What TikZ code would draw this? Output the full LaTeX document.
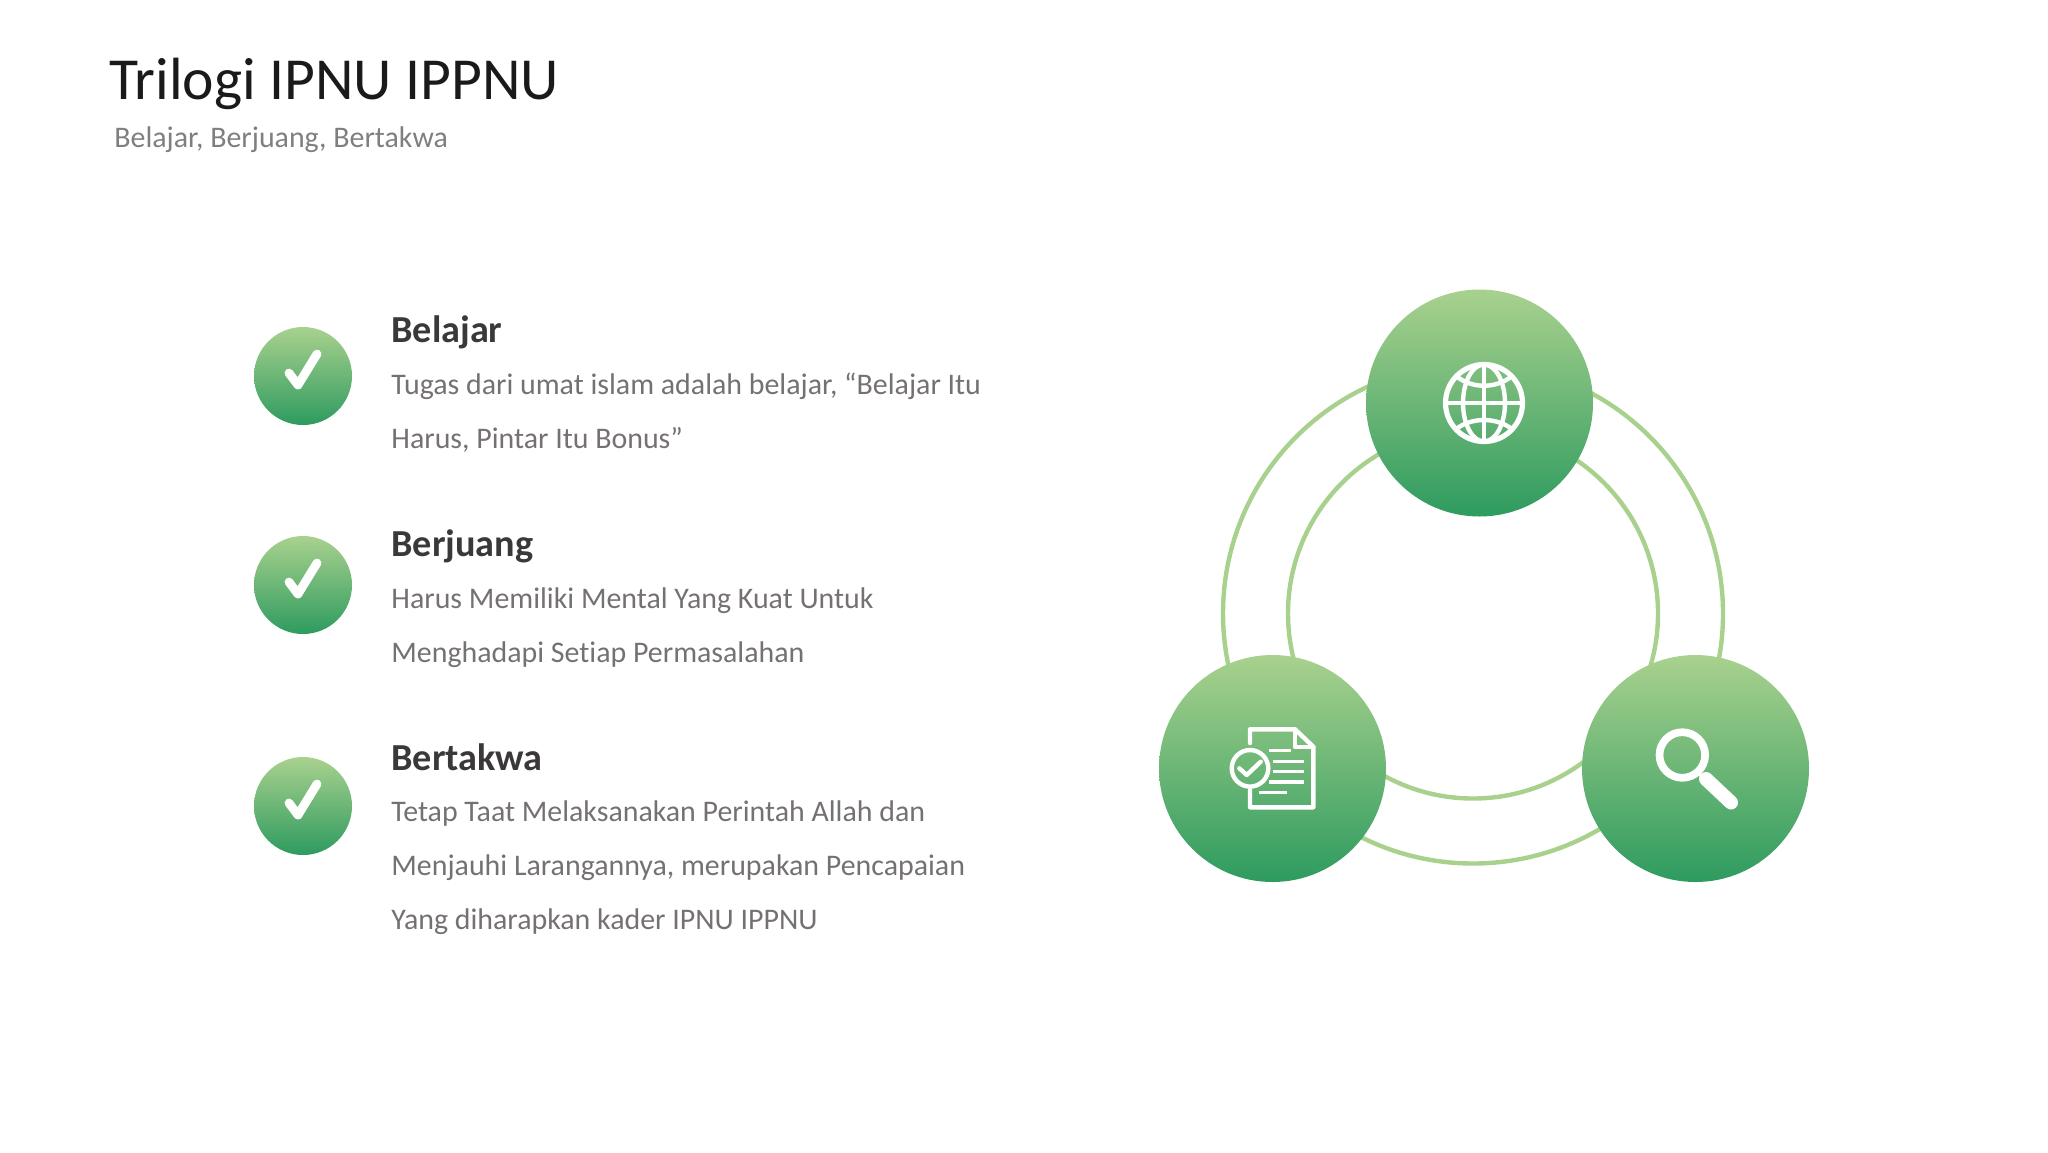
\documentclass[tikz,border=0pt]{standalone}
\usepackage{fontspec}
\setmainfont[Ligatures=NoCommon]{Carlito}
\usetikzlibrary{positioning, calc}

\definecolor{ringgreen}{HTML}{A9D18E}
\definecolor{topgreen}{HTML}{A9D18E}
\definecolor{botgreen}{HTML}{2E9B5F}
\definecolor{titleink}{HTML}{1A1A1A}
\definecolor{subink}{HTML}{7F7F7F}
\definecolor{headink}{HTML}{3B3838}
\definecolor{bodyink}{HTML}{767171}

\tikzset{
    txt/.style={anchor=base west, inner sep=0pt},
    headtxt/.style={txt, text=headink, font=\fontsize{19.1}{23}\selectfont\bfseries},
    bodytxt/.style={txt, text=bodyink, font=\fontsize{14.95}{18}\selectfont},
    hub/.style={circle, inner sep=0pt, minimum size=113.5pt, top color=topgreen, bottom color=botgreen},
    tick/.style={circle, inner sep=0pt, minimum size=49pt, top color=topgreen, bottom color=botgreen},
    ring/.style={draw=ringgreen, line width=2.2pt},
    icon/.style={draw=white, line width=2.2pt, line cap=round, line join=round}
}

\begin{document}
\begin{tikzpicture}[x=0.5pt, y=-0.5pt]
    \useasboundingbox (0,0) rectangle (2048,1152);

    % Title
    \node[txt, text=titleink, font=\fontsize{29.8}{36}\selectfont] (title) at (109,99.3) {Trilogi IPNU IPPNU};
    \node[txt, text=subink, font=\fontsize{14.95}{18}\selectfont] (subtitle) at (114,147.3) {Belajar, Berjuang, Bertakwa};

    % Check marks
    \foreach \i/\y in {0/376, 1/585, 2/806} {
        \node[tick] (tick\i) at (303,\y) {};
        \draw[icon, line width=4.4pt] ($(tick\i)+(-14,-3)$) -- ($(tick\i)+(-5,9)$) -- ($(tick\i)+(14,-22)$);
    }

    % Points
    \node[headtxt] (head0) at (391,342) {Belajar};
    \node[bodytxt] (body0a) at (391,394.3) {Tugas dari umat islam adalah belajar, “Belajar Itu};
    \node[bodytxt] (body0b) at (391,448.3) {Harus, Pintar Itu Bonus”};
    \node[headtxt] (head1) at (391,556) {Berjuang};
    \node[bodytxt] (body1a) at (391,608.3) {Harus Memiliki Mental Yang Kuat Untuk};
    \node[bodytxt] (body1b) at (391,662.3) {Menghadapi Setiap Permasalahan};
    \node[headtxt] (head2) at (391,770) {Bertakwa};
    \node[bodytxt] (body2a) at (391,821) {Tetap Taat Melaksanakan Perintah Allah dan};
    \node[bodytxt] (body2b) at (391,875) {Menjauhi Larangannya, merupakan Pencapaian};
    \node[bodytxt] (body2c) at (391,929) {Yang diharapkan kader IPNU IPPNU};

    % Rings
    \draw[ring] (1473,613.5) circle[radius=250];
    \draw[ring] (1473,613.5) circle[radius=185];

    % Hubs
    \node[hub] (hubtop) at (1479.5,403) {};
    \node[hub] (hubleft) at (1272.5,768.5) {};
    \node[hub] (hubright) at (1695.5,768.5) {};

    % Globe
    \begin{scope}[icon, line cap=butt]
        \draw[line width=2.6pt] (1484,403) circle[radius=38.5];
        \draw (1484,365) -- (1484,441);
        \draw (1446,403) -- (1522,403);
        \draw (1484,403) ellipse[x radius=21, y radius=38.5];
        \draw (1456,376) .. controls (1472,389) and (1496,389) .. (1512,376);
        \draw (1456,429) .. controls (1472,417) and (1496,417) .. (1512,429);
    \end{scope}

    % Document
    \begin{scope}[icon]
        \draw (1250,743) -- (1250,729.3) -- (1295,729.3) -- (1313.3,746.7) -- (1313.3,807.3) -- (1250,807.3) -- (1250,790);
        \draw (1295,729.3) -- (1295,746.7) -- (1313.3,746.7);
        \draw (1250,768.3) circle[radius=18.3];
        \draw (1239.3,768.3) -- (1246.7,775) -- (1260.7,761.7);
        \draw[line width=1.6pt, line cap=butt] (1269.3,750.7) -- (1290.7,750.7);
        \draw[line width=1.6pt, line cap=butt] (1272.7,761.3) -- (1304,761.3);
        \draw[line width=1.6pt, line cap=butt] (1272.7,771.7) -- (1304,771.7);
        \draw[line width=1.6pt, line cap=butt] (1269.3,782) -- (1304,782);
        \draw[line width=1.6pt, line cap=butt] (1259.3,792.3) -- (1287.3,792.3);
    \end{scope}

    % Magnifier
    \draw[icon, line width=3.85pt] (1682.3,755) circle[radius=22.8];
    \draw[icon, line width=1.6pt, line cap=butt] (1697,772) -- (1705,779);
    \draw[icon, line width=7pt] (1706,779) -- (1731,802.5);
\end{tikzpicture}
\end{document}
